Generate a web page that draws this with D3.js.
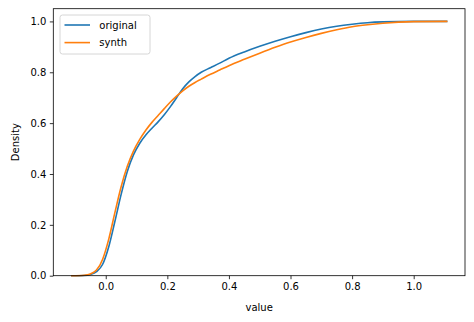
<!DOCTYPE html>
<html>
<head>
<meta charset="utf-8">
<script src="https://cdn.jsdelivr.net/npm/d3@7"></script>
<style>
  html, body { margin: 0; padding: 0; background: #fff; }
  svg { display: block; font-family: "DejaVu Sans", sans-serif; }
</style>
</head>
<body>
<svg id="chart" width="474" height="322"></svg>
<script>
// ---- data ----
const seriesNames = ["original", "synth"];
const originalX = [-0.11, -0.07, -0.05, -0.03, -0.01, 0.01, 0.03, 0.05, 0.07, 0.09, 0.11, 0.13, 0.15, 0.17, 0.19, 0.21, 0.23, 0.25, 0.27, 0.29, 0.31, 0.34, 0.37, 0.40, 0.45, 0.50, 0.55, 0.60, 0.65, 0.70, 0.75, 0.80, 0.85, 0.90, 1.0, 1.107];
const originalY = [0.0, 0.001, 0.005, 0.016, 0.045, 0.115, 0.215, 0.32, 0.41, 0.475, 0.52, 0.553, 0.58, 0.605, 0.633, 0.665, 0.70, 0.735, 0.762, 0.783, 0.800, 0.818, 0.836, 0.855, 0.880, 0.902, 0.922, 0.940, 0.956, 0.970, 0.981, 0.989, 0.995, 0.998, 1.0, 1.0];
const synthX = [-0.11, -0.07, -0.05, -0.03, -0.01, 0.01, 0.03, 0.05, 0.07, 0.09, 0.11, 0.13, 0.15, 0.17, 0.19, 0.21, 0.23, 0.25, 0.27, 0.29, 0.31, 0.34, 0.37, 0.40, 0.45, 0.50, 0.55, 0.60, 0.65, 0.70, 0.75, 0.80, 0.85, 0.90, 1.0, 1.107];
const synthY = [0.0, 0.002, 0.007, 0.022, 0.065, 0.145, 0.25, 0.35, 0.43, 0.49, 0.535, 0.572, 0.603, 0.630, 0.657, 0.683, 0.706, 0.727, 0.745, 0.760, 0.773, 0.792, 0.809, 0.826, 0.851, 0.875, 0.898, 0.919, 0.937, 0.953, 0.967, 0.979, 0.987, 0.993, 0.999, 1.0];
const xTicks = [0.0, 0.2, 0.4, 0.6, 0.8, 1.0];
const yTicks = [0.0, 0.2, 0.4, 0.6, 0.8, 1.0];
const colors = ["#1f77b4", "#ff7f0e"];

// ---- layout ----
const svg = d3.select("#chart");
const pLeft = 53.3, pRight = 465, pTop = 8.7, pBottom = 275.7;
const x = d3.scaleLinear().domain([-0.1703, 1.1666]).range([pLeft, pRight]);
const y = d3.scaleLinear().domain([0, 1.05]).range([pBottom, pTop]);

const series = [
  { name: seriesNames[0], data: originalX.map((v, i) => [v, originalY[i]]), color: colors[0] },
  { name: seriesNames[1], data: synthX.map((v, i) => [v, synthY[i]]), color: colors[1] }
];

const line = d3.line().x(d => x(d[0])).y(d => y(d[1])).curve(d3.curveMonotoneX);

svg.append("g").selectAll("path").data(series).join("path")
  .attr("d", d => line(d.data))
  .attr("fill", "none")
  .attr("stroke", d => d.color)
  .attr("stroke-width", 1.6)
  .attr("stroke-linejoin", "round")
  .attr("stroke-linecap", "square");

// axes
const xAxis = svg.append("g").attr("transform", `translate(0,${pBottom})`)
  .call(d3.axisBottom(x).tickValues(xTicks).tickFormat(d3.format(".1f")).tickSize(3.5).tickPadding(3.5));
const yAxis = svg.append("g").attr("transform", `translate(${pLeft},0)`)
  .call(d3.axisLeft(y).tickValues(yTicks).tickFormat(d3.format(".1f")).tickSize(3.5).tickPadding(3.5));
[xAxis, yAxis].forEach(g => {
  g.select(".domain").remove();
  g.selectAll(".tick line").attr("stroke", "#000").attr("stroke-width", 0.8);
  g.selectAll(".tick text").attr("font-size", 10).attr("fill", "#000").attr("font-family", "DejaVu Sans");
});

// frame
svg.append("rect")
  .attr("x", pLeft).attr("y", pTop)
  .attr("width", pRight - pLeft).attr("height", pBottom - pTop)
  .attr("fill", "none").attr("stroke", "#000").attr("stroke-width", 0.8);

// labels
svg.append("text").attr("x", (pLeft + pRight) / 2).attr("y", 310.5)
  .attr("text-anchor", "middle").attr("font-size", 10).text("value");
svg.append("text").attr("transform", `translate(18.5,${(pTop + pBottom) / 2}) rotate(-90)`)
  .attr("text-anchor", "middle").attr("font-size", 10).text("Density");

// legend
const lg = svg.append("g");
lg.append("rect").attr("x", 60).attr("y", 15).attr("width", 90).attr("height", 39)
  .attr("rx", 2.5).attr("fill", "#fff").attr("fill-opacity", 0.8)
  .attr("stroke", "#cccccc").attr("stroke-width", 0.8);
series.forEach((s, i) => {
  const ly = 25 + i * 17.6;
  lg.append("line").attr("x1", 64.5).attr("x2", 90).attr("y1", ly).attr("y2", ly)
    .attr("stroke", s.color).attr("stroke-width", 1.6);
  lg.append("text").attr("x", 99.3).attr("y", ly + 3.6).attr("font-size", 10).text(s.name);
});
</script>
</body>
</html>
